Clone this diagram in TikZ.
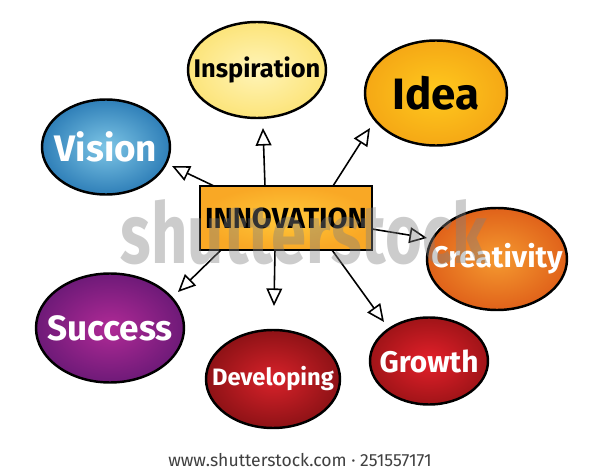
\documentclass[tikz,border=0pt]{standalone}
\usepackage{fontspec}
\setmainfont{Fira Sans}
\usetikzlibrary{shapes.geometric,arrows.meta}
\definecolor{inspY}{HTML}{FCE47A}
\definecolor{inspYc}{HTML}{FFF4B8}
\definecolor{ideaO}{HTML}{F5A815}
\definecolor{ideaOc}{HTML}{FFC91E}
\definecolor{visB}{HTML}{2F7FB8}
\definecolor{visBc}{HTML}{7EC6E6}
\definecolor{boxO}{HTML}{F9A825}
\definecolor{boxOc}{HTML}{FFC83A}
\definecolor{creO}{HTML}{E0621A}
\definecolor{creOc}{HTML}{F59A30}
\definecolor{sucP}{HTML}{6E1A78}
\definecolor{sucPc}{HTML}{B02A96}
\definecolor{devR}{HTML}{8E1216}
\definecolor{devRc}{HTML}{D8222A}
\definecolor{groR}{HTML}{A01418}
\definecolor{groRc}{HTML}{E4202A}
\tikzset{
  bubble/.style={ellipse, draw=black, line width=1.4pt, inner sep=0pt},
  hub/.style={rectangle, draw=black, line width=1.4pt, inner sep=0pt, font=\bfseries},
  lbl/.style={font=\bfseries, inner sep=0pt},
  link/.style={-{Triangle[open,length=10pt,width=9pt]}, line width=0.9pt, black},
}
\begin{document}
\begin{tikzpicture}[x=0.02cm, y=-0.02cm]
\useasboundingbox (0,0) rectangle (600,470);
\fill[white] (0,0) rectangle (600,470);
% hub
\node[hub, minimum width=172*0.02cm, minimum height=64*0.02cm, inner color=boxOc, outer color=boxO] (hub) at (286,218) {\fontsize{16.5}{18}\selectfont INNOVATION};
% bubbles
\node[bubble, minimum width=138*0.02cm, minimum height=96*0.02cm, inner color=inspYc, outer color=inspY] (insp) at (257,70) {};
\node[lbl] (inspT) at (insp.center) {\fontsize{14.5}{16}\selectfont Inspiration};
\node[bubble, minimum width=142*0.02cm, minimum height=105*0.02cm, inner color=ideaOc, outer color=ideaO] (idea) at (436,93) {};
\node[lbl] (ideaT) at (idea.center) {\fontsize{25}{28}\selectfont Idea};
\node[bubble, minimum width=128*0.02cm, minimum height=95*0.02cm, inner color=visBc, outer color=visB] (vis) at (106,147) {};
\node[lbl, text=white] (visT) at (vis.center) {\fontsize{21}{23}\selectfont Vision};
\node[bubble, minimum width=140*0.02cm, minimum height=102*0.02cm, inner color=creOc, outer color=creO] (cre) at (497,259) {};
\node[lbl, text=white] (creT) at (cre.center) {\fontsize{17}{19}\selectfont Creativity};
\node[bubble, minimum width=148*0.02cm, minimum height=109*0.02cm, inner color=sucPc, outer color=sucP] (suc) at (110,328) {};
\node[lbl, text=white] (sucT) at (suc.center) {\fontsize{20}{22}\selectfont Success};
\node[bubble, minimum width=134*0.02cm, minimum height=98*0.02cm, inner color=devRc, outer color=devR] (dev) at (273,379) {};
\node[lbl, text=white] (devT) at (dev.center) {\fontsize{13.5}{15}\selectfont Developing};
\node[bubble, minimum width=118*0.02cm, minimum height=87*0.02cm, inner color=groRc, outer color=groR] (gro) at (429,361) {};
\node[lbl, text=white] (groT) at (gro.center) {\fontsize{17}{19}\selectfont Growth};
% arrow end points
\coordinate (tInsp) at (263,128);
\coordinate (tIdea) at (370,128);
\coordinate (tVis) at (172,166);
\coordinate (tCre) at (427,238);
\coordinate (tSuc) at (178,292);
\coordinate (tDev) at (274,306);
\coordinate (tGro) at (384,322);
\coordinate (sInsp) at (265,186);
\coordinate (sIdea) at (333,186);
\coordinate (sVis) at (214,186);
\coordinate (sCre) at (372,229);
\coordinate (sSuc) at (221,250);
\coordinate (sDev) at (275,250);
\coordinate (sGro) at (332,250);
\draw[link] (sInsp) -- (tInsp);
\draw[link] (sIdea) -- (tIdea);
\draw[link] (sVis) -- (tVis);
\draw[link] (sCre) -- (tCre);
\draw[link] (sSuc) -- (tSuc);
\draw[link] (sDev) -- (tDev);
\draw[link] (sGro) -- (tGro);
% watermark
\node[text=gray, opacity=0.4, font=\bfseries\fontsize{48}{48}\selectfont, xscale=0.75] (wm) at (304,232) {shutterstock};
\node[text=black!75, font=\fontsize{10}{12}\selectfont] (foot) at (300,460) {www.shutterstock.com · 251557171};
\end{tikzpicture}
\end{document}
